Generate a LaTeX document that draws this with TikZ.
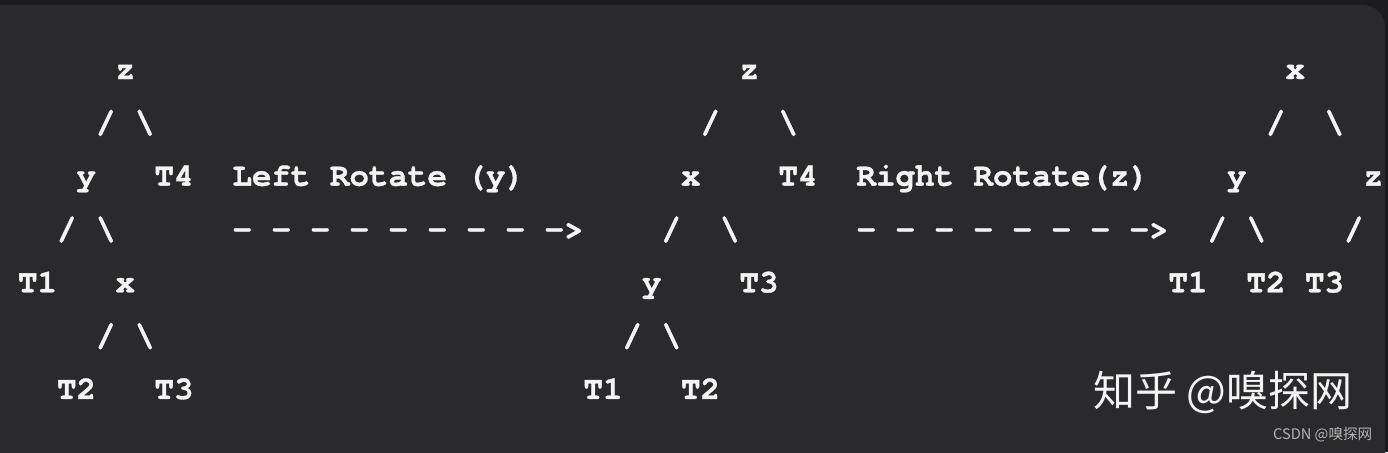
\documentclass[tikz,border=0pt]{standalone}
\usepackage{fontspec}
\newfontfamily\codefont{texgyrecursor}[Extension=.otf,UprightFont=*-regular,BoldFont=*-bold,BoldFeatures={FakeBold=1}]
\newfontfamily\cjk{Noto Sans CJK SC}
\definecolor{outerbg}{HTML}{1C1C1E}
\definecolor{panelbg}{HTML}{2A2A2C}
\definecolor{codefg}{HTML}{F4F4F4}
\definecolor{markfg}{HTML}{B4B4B4}
\newcommand\tok[4]{\node[codetok] (#1) at ({18+#2*19.5},{-79-(#3-1)*53.33}) {#4};}
\begin{document}
\begin{tikzpicture}[x=1pt,y=1pt,
  codetok/.style={anchor=base west,inner sep=0pt,outer sep=0pt,text=codefg,
    font=\codefont\bfseries\fontsize{32.5}{32.5}\selectfont},
  zhmark/.style={anchor=base west,inner sep=0pt,text=codefg,font=\cjk\fontsize{42}{42}\selectfont},
  csdnmark/.style={anchor=base west,inner sep=0pt,text=markfg,font=\cjk\fontsize{14.6}{14.6}\selectfont}]
\useasboundingbox (0,0) rectangle (1388,-452);
\fill[outerbg] (0,0) rectangle (1388,-452);
\fill[panelbg,rounded corners=22pt] (-40,-5) rectangle (1385,-475);
% tree 1
\tok{az}{5}{1}{z}
\tok{as1}{4}{2}{/}
\tok{ab1}{6}{2}{\textbackslash}
\tok{ay}{3}{3}{y}
\tok{aT4}{7}{3}{T4}
\tok{as2}{2}{4}{/}
\tok{ab2}{4}{4}{\textbackslash}
\tok{aT1}{0}{5}{T1}
\tok{ax}{5}{5}{x}
\tok{as3}{4}{6}{/}
\tok{ab3}{6}{6}{\textbackslash}
\tok{aT2}{2}{7}{T2}
\tok{aT3}{7}{7}{T3}
% arrow 1
\tok{lrot}{11}{3}{Left Rotate (y)}
\tok{larrow}{11}{4}{- - - - - - - - ->}
% tree 2
\tok{bz}{37}{1}{z}
\tok{bs1}{35}{2}{/}
\tok{bb1}{39}{2}{\textbackslash}
\tok{bx}{34}{3}{x}
\tok{bT4}{39}{3}{T4}
\tok{bs2}{33}{4}{/}
\tok{bb2}{36}{4}{\textbackslash}
\tok{by}{32}{5}{y}
\tok{bT3}{37}{5}{T3}
\tok{bs3}{31}{6}{/}
\tok{bb3}{33}{6}{\textbackslash}
\tok{bT1}{29}{7}{T1}
\tok{bT2}{34}{7}{T2}
% arrow 2
\tok{rrot}{43}{3}{Right Rotate(z)}
\tok{rarrow}{43}{4}{- - - - - - - ->}
% tree 3
\tok{cx}{65}{1}{x}
\tok{cs1}{64}{2}{/}
\tok{cb1}{67}{2}{\textbackslash}
\tok{cy}{62}{3}{y}
\tok{cz}{69}{3}{z}
\tok{cs2}{61}{4}{/}
\tok{cb2}{63}{4}{\textbackslash}
\tok{cs3}{68}{4}{/}
\tok{cT1}{59}{5}{T1}
\tok{cT2}{63}{5}{T2}
\tok{cT3}{66}{5}{T3}
% watermarks
\node[zhmark] (zhihu) at (1093,-406) {知乎 @嗅探网};
\node[csdnmark] (csdn) at (1273,-439) {CSDN @嗅探网};
\end{tikzpicture}
\end{document}
